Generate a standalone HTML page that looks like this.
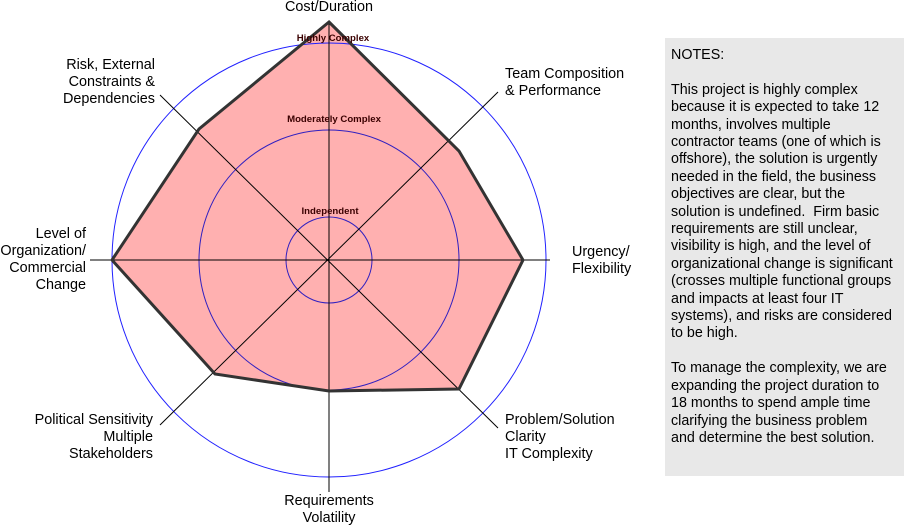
<!DOCTYPE html>
<html><head><style>
body{margin:0;background:#fff;}
svg text{font-family:"Liberation Sans",Arial,sans-serif;}
.notes{position:absolute;left:665px;top:38px;width:228px;height:420px;background:#e8e8e8;padding:9px 5px 9px 6px;font:14.3px/17.4px "Liberation Sans",Arial,sans-serif;color:#000;}
.notes div{width:224px;}
.notes p{margin:0 0 17.4px 0;}
</style></head><body>
<div style="position:relative;width:904px;height:526px;overflow:hidden">
<svg width="904" height="526" style="position:absolute;left:0;top:0">
<polygon points="329,22 459,151 523,260 459,389 329,391 215,374 112,260 199,129" fill="#ffb0b0" stroke="none"/>
<circle cx="329" cy="260" r="217" fill="none" stroke="#2020ff" stroke-width="1"/>
<circle cx="329" cy="260" r="130" fill="none" stroke="#3020c0" stroke-width="1"/>
<circle cx="329" cy="260" r="43" fill="none" stroke="#3020c0" stroke-width="1"/>
<line x1="329" y1="22" x2="329" y2="492" stroke="#000"/>
<line x1="90" y1="260" x2="550" y2="260" stroke="#000"/>
<line x1="160" y1="95" x2="498" y2="428" stroke="#000"/>
<line x1="498" y1="92" x2="160" y2="425" stroke="#000"/>
<polygon points="329,22 459,151 523,260 459,389 329,391 215,374 112,260 199,129" fill="none" stroke="#333" stroke-width="3" stroke-linejoin="miter"/>
<g font-size="9.6" font-weight="bold" fill="#3a0000" text-anchor="middle">
<text x="333" y="41">Highly Complex</text>
<text x="334" y="122">Moderately Complex</text>
<text x="330" y="214">Independent</text>
</g>
<g font-size="14.4" fill="#000">
<text x="329" y="11" text-anchor="middle">Cost/Duration</text>
<text x="155" y="69" text-anchor="end">Risk, External</text>
<text x="155" y="86" text-anchor="end">Constraints &amp;</text>
<text x="155" y="103" text-anchor="end">Dependencies</text>
<text x="505" y="78">Team Composition</text>
<text x="505" y="95">&amp; Performance</text>
<text x="86" y="238" text-anchor="end">Level of</text>
<text x="86" y="255" text-anchor="end">Organization/</text>
<text x="86" y="272" text-anchor="end">Commercial</text>
<text x="86" y="289" text-anchor="end">Change</text>
<text x="572" y="256">Urgency/</text>
<text x="572" y="273">Flexibility</text>
<text x="153" y="424" text-anchor="end">Political Sensitivity</text>
<text x="153" y="441" text-anchor="end">Multiple</text>
<text x="153" y="458" text-anchor="end">Stakeholders</text>
<text x="505" y="424">Problem/Solution</text>
<text x="505" y="441">Clarity</text>
<text x="505" y="458">IT Complexity</text>
<text x="329" y="505" text-anchor="middle">Requirements</text>
<text x="329" y="522" text-anchor="middle">Volatility</text>
</g>
</svg>
<div class="notes"><div>
<p>NOTES:</p>
<p>This project is highly complex because it is expected to take 12 months, involves multiple contractor teams (one of which is offshore), the solution is urgently needed in the field, the business objectives are clear, but the solution is undefined.&nbsp; Firm basic requirements are still unclear, visibility is high, and the level of organizational change is significant (crosses multiple functional groups and impacts at least four IT systems), and risks are considered to be high.</p>
<p>To manage the complexity, we are expanding the project duration to 18 months to spend ample time clarifying the business problem and determine the best solution.</p>
</div></div>
</div>
</body></html>
